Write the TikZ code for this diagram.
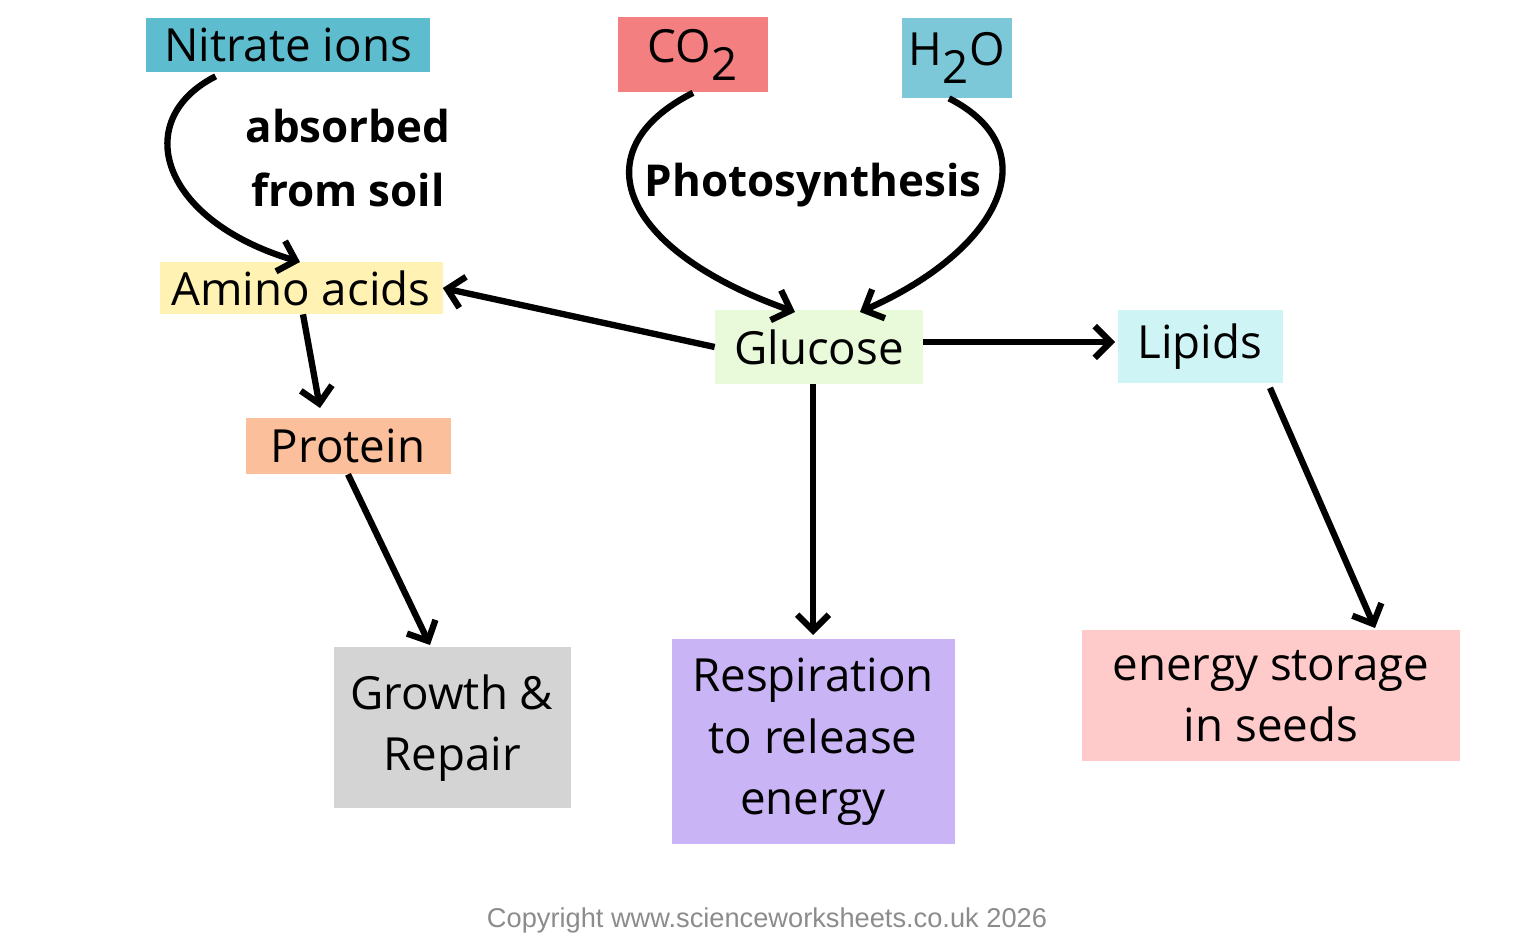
\documentclass[tikz,border=0pt]{standalone}
\usepackage{fontspec}
\setmainfont{Open Sans}
\newfontfamily\copyfont{Liberation Sans}
\usetikzlibrary{arrows.meta, positioning}
\definecolor{NitrateBlue}{HTML}{5DBDCF}
\definecolor{CarbonRed}{HTML}{F47F80}
\definecolor{WaterBlue}{HTML}{7DC8D8}
\definecolor{AminoYellow}{HTML}{FFF2B3}
\definecolor{GlucoseGreen}{HTML}{E8FADA}
\definecolor{LipidCyan}{HTML}{CFF4F6}
\definecolor{ProteinOrange}{HTML}{FBBF9B}
\definecolor{GrowthGray}{HTML}{D4D4D4}
\definecolor{RespPurple}{HTML}{C9B5F5}
\definecolor{StorePink}{HTML}{FFCACA}
\begin{document}
\begin{tikzpicture}[x=0.02cm, y=-0.02cm, every node/.style={font=\fontsize{26}{35}\selectfont}]
  \tikzset{
    box/.style={rectangle, inner sep=0pt, align=center},
    tag/.style={font=\fontsize{25}{36}\selectfont\bfseries, align=center},
    line/.style={-{Straight Barb[length=9pt, width=18pt]}, line width=3.6pt, color=black}
  }
  \useasboundingbox (0,0) rectangle (1536,935);
  \node[box, fill=NitrateBlue, minimum width=284*0.02cm, minimum height=54*0.02cm] (nitrate) at (288,45) {Nitrate ions};
  \node[box, fill=CarbonRed, minimum width=150*0.02cm, minimum height=75*0.02cm] (co2) at (693,55) {CO$_{\mbox{2}}$};
  \node[box, fill=WaterBlue, minimum width=110*0.02cm, minimum height=80*0.02cm] (h2o) at (957,58) {H$_{\mbox{2}}$O};
  \node[tag] (absorbed) at (348,158) {absorbed\\from soil};
  \node[tag] (photo) at (813,185) {Photosynthesis};
  \node[box, fill=AminoYellow, minimum width=283*0.02cm, minimum height=52*0.02cm] (amino) at (301,288) {Amino acids};
  \node[box, fill=GlucoseGreen, minimum width=208*0.02cm, minimum height=74*0.02cm] (glucose) at (819,347) {Glucose};
  \node[box, fill=LipidCyan, minimum width=165*0.02cm, minimum height=73*0.02cm] (lipids) at (1200,347) {Lipids};
  \node[box, fill=ProteinOrange, minimum width=205*0.02cm, minimum height=56*0.02cm] (protein) at (348,446) {Protein};
  \node[box, fill=GrowthGray, minimum width=237*0.02cm, minimum height=161*0.02cm] (growth) at (452,728) {Growth \&\\Repair};
  \node[box, fill=RespPurple, minimum width=283*0.02cm, minimum height=205*0.02cm] (resp) at (813,742) {Respiration\\to release\\energy};
  \node[box, fill=StorePink, minimum width=378*0.02cm, minimum height=131*0.02cm] (store) at (1271,696) {energy storage\\in seeds};
  \node[font=\copyfont\fontsize{15.5}{18}\selectfont, text=black!45] (copy) at (767,920) {Copyright www.scienceworksheets.co.uk 2026};

  % curved inputs
  \draw[line] (nitrate.south west)++(70,4) .. controls (130,120) and (160,220) .. (300,262);
  \draw[line] (co2.south) .. controls (580,150) and (620,250) .. (795,312);
  \draw[line] (h2o.south)++(-8,0) .. controls (1050,150) and (1000,250) .. (860,312);
  % straight links
  \draw[line] (glucose.west) -- (amino.east);
  \draw[line] (amino.south) ++(2,0) -- (320,408);
  \draw[line] (protein.south) -- (430,645);
  \draw[line] (glucose.south) ++(-6,0) -- (813,635);
  \draw[line] (glucose.east) ++(0,-5) -- (1115,342);
  \draw[line] (lipids.south) ++(70,4) -- (1375,628);
\end{tikzpicture}
\end{document}
